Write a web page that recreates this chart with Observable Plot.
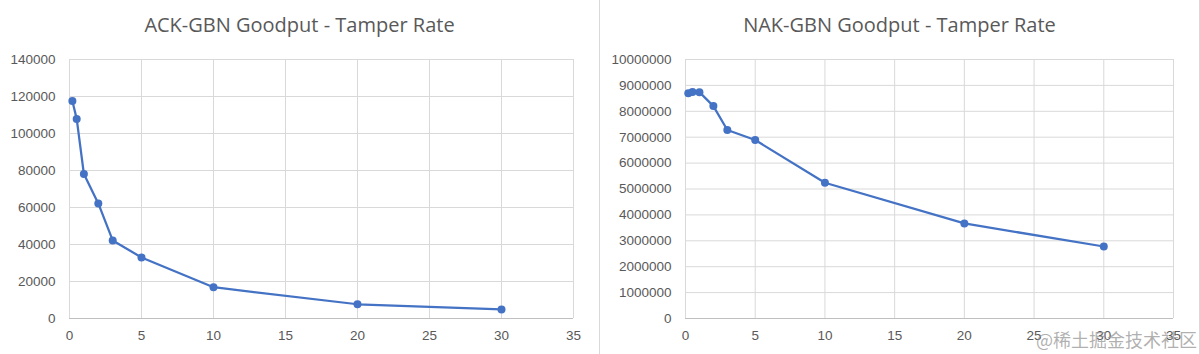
<!DOCTYPE html>
<html>
<head>
<meta charset="utf-8">
<script src="https://cdn.jsdelivr.net/npm/d3@7"></script>
<script src="https://cdn.jsdelivr.net/npm/@observablehq/plot@0.6"></script>
<style>
  html, body { margin: 0; padding: 0; background: #fff; }
  #wrap { position: relative; width: 1200px; height: 354px; display: flex; overflow: hidden; }
  .chart { position: relative; width: 600px; height: 354px; box-sizing: border-box; border-right: 1px solid #d9d9d9; }
  .title { height: 44px; line-height: 50px; text-align: center; font-family: "Open Sans", sans-serif; font-size: 20px; color: #595959; white-space: nowrap; }
  .chart svg { display: block; }
  #wm { position: absolute; left: 1036px; top: 326px; font-family: "Noto Sans CJK SC", sans-serif; font-size: 18px; color: rgba(150,150,150,0.75); white-space: nowrap; letter-spacing: 0px; }
</style>
</head>
<body>
<div id="wrap">
  <div class="chart" id="left"><div class="title">ACK-GBN Goodput - Tamper Rate</div></div>
  <div class="chart" id="right"><div class="title">NAK-GBN Goodput - Tamper Rate</div></div>
  <span id="wm">@稀土掘金技术社区</span>
</div>
<script>
const tamperRates = [0.2, 0.5, 1, 2, 3, 5, 10, 20, 30];
const ackGoodput = [117600, 107900, 78100, 62200, 42200, 33000, 16900, 7700, 4900];
const nakGoodput = [8700000, 8750000, 8740000, 8200000, 7280000, 6890000, 5240000, 3670000, 2780000];
const xTicks = [0, 5, 10, 15, 20, 25, 30, 35];
const ackYTicks = [0, 20000, 40000, 60000, 80000, 100000, 120000, 140000];
const nakYTicks = [0, 1000000, 2000000, 3000000, 4000000, 5000000, 6000000, 7000000, 8000000, 9000000, 10000000];

const lineColor = "#4472C4";
const textColor = "#595959";

function makeChart(values, yTicks, yMax, marginLeft, marginRight) {
  const data = tamperRates.map((r, i) => ({rate: r, goodput: values[i]}));
  return Plot.plot({
    width: 599,
    height: 310,
    marginTop: 15,
    marginBottom: 36,
    marginLeft,
    marginRight,
    style: {fontFamily: "'Liberation Sans', Arial, sans-serif", fontSize: "13.5px", color: textColor, background: "#fff"},
    x: {domain: [0, 35], ticks: xTicks},
    y: {domain: [0, yMax], ticks: yTicks},
    marks: [
      Plot.gridX(xTicks, {stroke: "#d9d9d9", strokeOpacity: 1}),
      Plot.gridY(yTicks, {stroke: "#d9d9d9", strokeOpacity: 1}),
      Plot.ruleY([0], {stroke: "#bfbfbf"}),
      Plot.axisX(xTicks, {tickSize: 0, tickPadding: 12, label: null, tickFormat: d => String(d), fill: textColor}),
      Plot.axisY(yTicks, {tickSize: 0, tickPadding: 14, label: null, tickFormat: d => String(d), fill: textColor}),
      Plot.line(data, {x: "rate", y: "goodput", stroke: lineColor, strokeWidth: 2.25}),
      Plot.dot(data, {x: "rate", y: "goodput", fill: lineColor, r: 4})
    ]
  });
}

document.getElementById("left").appendChild(makeChart(ackGoodput, ackYTicks, 140000, 69, 26));
document.getElementById("right").appendChild(makeChart(nakGoodput, nakYTicks, 10000000, 85, 26));
</script>
</body>
</html>
